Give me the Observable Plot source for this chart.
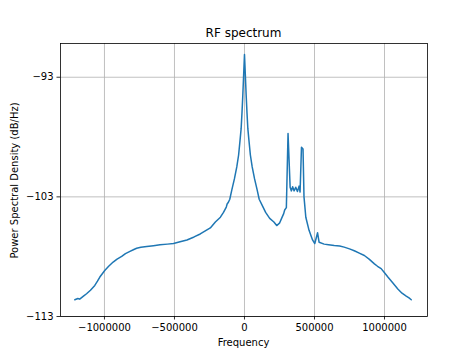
<!DOCTYPE html>
<html>
<head>
<meta charset="utf-8">
<script src="https://cdn.jsdelivr.net/npm/d3@7"></script>
<script src="https://cdn.jsdelivr.net/npm/@observablehq/plot@0.6"></script>
<style>
  html, body { margin: 0; padding: 0; background: #fff; }
  #chart svg { display: block; }
</style>
</head>
<body>
<div id="chart"></div>
<script>
// Frequency (Hz) and power spectral density (dB/Hz)
const freq = [
  -1212000, -1190000, -1177000, -1150000, -1128000, -1100000, -1069000, -1050000,
  -1033000, -998000, -970000, -938000, -910000, -877000, -850000, -818000,
  -790000, -770000, -740000, -698000, -650000, -603000, -550000, -507000,
  -460000, -411000, -360000, -316000, -280000, -244000, -208000, -172000,
  -150000, -130000, -124000, -115000, -105000, -90000, -72000, -55000,
  -42000, -32000, -24000, -18000, -12000, -6000, 0, 6000,
  12000, 18000, 24000, 32000, 42000, 55000, 72000, 90000,
  105000, 130000, 151000, 180000, 210000, 230000,
  250000, 265000, 280000, 287000, 299000, 311000, 326000, 335000,
  344000, 354000, 366000, 378000, 390000, 397000, 407000, 418000,
  425000, 438000, 461000, 486000, 502000, 522000, 533000, 569000,
  600000, 641000, 680000, 712000, 750000, 784000, 820000, 856000,
  890000, 928000, 950000, 976000, 1000000, 1024000, 1060000, 1095000,
  1125000, 1155000, 1175000, 1191000
];
const psd = [
  -111.6, -111.5, -111.55, -111.3, -111.1, -110.8, -110.4, -110.05,
  -109.7, -109.15, -108.8, -108.45, -108.2, -107.98, -107.75, -107.56,
  -107.4, -107.3, -107.22, -107.15, -107.08, -107.0, -106.95, -106.9,
  -106.75, -106.6, -106.35, -106.1, -105.85, -105.6, -105.1, -104.7,
  -104.3, -103.85, -103.6, -103.45, -103.2, -102.4, -101.5, -100.5,
  -99.5, -98.3, -97.3, -96.0, -94.5, -92.8, -91.1, -92.8,
  -94.5, -96.0, -97.3, -98.3, -99.5, -100.5, -101.5, -102.4,
  -103.2, -103.8, -104.3, -104.8, -105.1, -105.4,
  -105.2, -104.8, -104.4, -104.1, -103.9, -97.7, -102.2, -102.5,
  -102.15, -102.5, -102.2, -102.55, -102.1, -102.6, -98.85, -99.0,
  -103.0, -104.7, -105.8, -106.6, -106.9, -106.0, -106.8, -106.95,
  -107.0, -107.06, -107.1, -107.2, -107.35, -107.5, -107.7, -107.9,
  -108.2, -108.6, -108.8, -109.0, -109.35, -109.7, -110.2, -110.7,
  -111.05, -111.3, -111.45, -111.6
];
const xTicks = [-1000000, -500000, 0, 500000, 1000000];
const yTicks = [-113, -103, -93];
const titleText = "RF spectrum";
const xLabel = "Frequency";
const yLabel = "Power Spectral Density (dB/Hz)";

const data = freq.map((f, i) => ({f, p: psd[i]}));
const fmt = d => String(d).replace("-", "\u2212");

const W = 474, H = 355;
const mL = 60, mR = 47, mT = 43, mB = 39;

const plot = Plot.plot({
  width: W,
  height: H,
  marginLeft: mL,
  marginRight: mR,
  marginTop: mT,
  marginBottom: mB,
  style: {fontFamily: "'DejaVu Sans', sans-serif", fontSize: "10px", background: "#fff", color: "#000"},
  x: {domain: [-1314000, 1307000]},
  y: {domain: [-113, -90.18]},
  marks: [
    Plot.gridX(xTicks, {stroke: "#b0b0b0", strokeOpacity: 1, strokeWidth: 0.8}),
    Plot.gridY(yTicks, {stroke: "#b0b0b0", strokeOpacity: 1, strokeWidth: 0.8}),
    Plot.line(data, {x: "f", y: "p", stroke: "#1f77b4", strokeWidth: 1.5, strokeLinejoin: "round"}),
    Plot.frame({stroke: "#000", strokeWidth: 0.8}),
    Plot.axisX(xTicks, {tickFormat: fmt, tickSize: 3.5, tickPadding: 3.5, label: null, fill: "#000", stroke: "#000", strokeWidth: 0.8, fontSize: 10}),
    Plot.axisY(yTicks, {tickFormat: fmt, tickSize: 3.5, tickPadding: 3.5, label: null, fill: "#000", stroke: "#000", strokeWidth: 0.8, fontSize: 10})
  ]
});

const svg = d3.select(plot);
svg.append("text")
  .attr("x", mL + (W - mL - mR) / 2).attr("y", 37)
  .attr("text-anchor", "middle")
  .attr("font-family", "'DejaVu Sans', sans-serif")
  .attr("font-size", 12).attr("fill", "#000")
  .text(titleText);
svg.append("text")
  .attr("x", mL + (W - mL - mR) / 2).attr("y", 345.5)
  .attr("text-anchor", "middle")
  .attr("font-family", "'DejaVu Sans', sans-serif")
  .attr("font-size", 10).attr("fill", "#000")
  .text(xLabel);
svg.append("text")
  .attr("transform", `translate(17.5, ${mT + (H - mT - mB) / 2 + 1}) rotate(-90)`)
  .attr("text-anchor", "middle")
  .attr("font-family", "'DejaVu Sans', sans-serif")
  .attr("font-size", 10).attr("fill", "#000")
  .text(yLabel);

document.getElementById("chart").appendChild(plot);
</script>
</body>
</html>
